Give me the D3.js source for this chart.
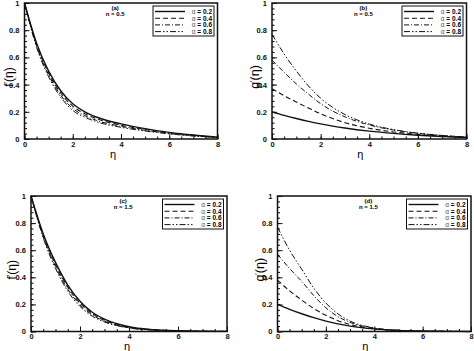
<!DOCTYPE html>
<html lang="en">
<head>
<meta charset="UTF-8">
<title>f' and g' profiles</title>
<script src="https://cdn.jsdelivr.net/npm/d3@7"></script>
<style>
  body { margin: 0; background: #fff; }
  svg text { font-family: "Liberation Sans", Arial, sans-serif; }
</style>
</head>
<body>
<svg id="svg"></svg>
<script>
var WIDTH = 474;
var HEIGHT = 351;

// eta grid shared by all curves
var eta = [0, 0.5, 1, 1.5, 2, 2.5, 3, 4, 5, 6, 7, 8];
var alphas = ["0.2", "0.4", "0.6", "0.8"];
var xTicks = [0, 2, 4, 6, 8];
var yTicks = [0, 0.2, 0.4, 0.6, 0.8, 1];

// (a) f'(eta), n = 0.5
var fN05_a02 = [1, 0.705, 0.499, 0.355, 0.259, 0.2, 0.16, 0.111, 0.076, 0.049, 0.029, 0.014];
var fN05_a04 = [1, 0.695, 0.485, 0.338, 0.242, 0.186, 0.148, 0.102, 0.07, 0.045, 0.027, 0.013];
var fN05_a06 = [1, 0.685, 0.47, 0.322, 0.225, 0.172, 0.136, 0.093, 0.064, 0.041, 0.024, 0.012];
var fN05_a08 = [1, 0.675, 0.457, 0.308, 0.21, 0.16, 0.126, 0.086, 0.059, 0.038, 0.022, 0.011];

// (b) g'(eta), n = 0.5
var gN05_a02 = [0.2, 0.174, 0.151, 0.13, 0.111, 0.095, 0.081, 0.058, 0.041, 0.028, 0.018, 0.01];
var gN05_a04 = [0.37, 0.318, 0.272, 0.228, 0.186, 0.15, 0.12, 0.079, 0.052, 0.034, 0.021, 0.012];
var gN05_a06 = [0.58, 0.49, 0.405, 0.33, 0.26, 0.205, 0.163, 0.103, 0.066, 0.042, 0.026, 0.014];
var gN05_a08 = [0.77, 0.625, 0.5, 0.39, 0.3, 0.232, 0.18, 0.11, 0.069, 0.043, 0.026, 0.014];

// (c) f'(eta), n = 1.5
var fN15_a02 = [1, 0.72, 0.51, 0.343, 0.223, 0.142, 0.091, 0.035, 0.0136, 0.005, 0.0018, 0.0007];
var fN15_a04 = [1, 0.71, 0.495, 0.328, 0.21, 0.132, 0.083, 0.031, 0.012, 0.0045, 0.0016, 0.0006];
var fN15_a06 = [1, 0.70, 0.48, 0.313, 0.197, 0.122, 0.076, 0.028, 0.011, 0.004, 0.0015, 0.0005];
var fN15_a08 = [1, 0.69, 0.465, 0.298, 0.185, 0.113, 0.07, 0.026, 0.01, 0.0037, 0.0013, 0.0005];

// (d) g'(eta), n = 1.5
var gN15_a02 = [0.2, 0.163, 0.131, 0.102, 0.077, 0.056, 0.04, 0.019, 0.008, 0.003, 0.001, 0.0004];
var gN15_a04 = [0.38, 0.3, 0.232, 0.17, 0.12, 0.08, 0.052, 0.02, 0.007, 0.0025, 0.001, 0.0003];
var gN15_a06 = [0.57, 0.465, 0.37, 0.265, 0.175, 0.11, 0.067, 0.024, 0.008, 0.003, 0.001, 0.0003];
var gN15_a08 = [0.77, 0.6, 0.46, 0.32, 0.21, 0.13, 0.077, 0.026, 0.009, 0.003, 0.001, 0.0003];

// line styles per alpha
var dashes = ["none", "5,3", "5,2,1,2", "6,2,1.5,2,1.5,2"];
var widths = [1.4, 1.1, 1, 1];

var panels = [
    {left: 24.5, right: 217.5, top: 3, bottom: 139, fn: "f", tag: "(a)", n: "n = 0.5",
     etaDx: -8, yLabX: 10, yLabSize: 12, series: [fN05_a02, fN05_a04, fN05_a06, fN05_a08]},
    {left: 272, right: 466.5, top: 3, bottom: 139, fn: "g", tag: "(b)", n: "n = 0.5",
     etaDx: -9, yLabX: 256, yLabSize: 12.5, series: [gN05_a02, gN05_a04, gN05_a06, gN05_a08]},
    {left: 31, right: 227, top: 196, bottom: 331.5, fn: "f", tag: "(c)", n: "n = 1.5",
     etaDx: -2, yLabX: 13, yLabSize: 12, series: [fN15_a02, fN15_a04, fN15_a06, fN15_a08]},
    {left: 277.5, right: 471, top: 196, bottom: 331.5, fn: "g", tag: "(d)", n: "n = 1.5",
     etaDx: -9, yLabX: 261, yLabSize: 12.5, series: [gN15_a02, gN15_a04, gN15_a06, gN15_a08]}
];

var svg = d3.select("#svg")
            .attr("width", WIDTH)
            .attr("height", HEIGHT);

panels.forEach(function(p){
    var g = svg.append("g");

    var xScale = d3.scaleLinear().domain([0, 8]).range([p.left, p.right]);
    var yScale = d3.scaleLinear().domain([0, 1]).range([p.bottom, p.top]);

    // minor ticks
    g.append("g")
     .attr("transform", "translate(0," + p.bottom + ")")
     .call(d3.axisBottom(xScale).tickValues(d3.range(0, 8.01, 0.5)).tickSize(-2.5).tickFormat(""))
     .call(function(s){ s.select(".domain").remove(); });
    g.append("g")
     .attr("transform", "translate(" + p.left + ",0)")
     .call(d3.axisLeft(yScale).tickValues(d3.range(0, 1.001, 0.04)).tickSize(-2.5).tickFormat(""))
     .call(function(s){ s.select(".domain").remove(); });

    // major ticks + labels
    var xa = g.append("g")
     .attr("transform", "translate(0," + p.bottom + ")")
     .call(d3.axisBottom(xScale).tickValues(xTicks).tickSize(-5).tickPadding(2.5).tickFormat(d3.format("d")));
    var ya = g.append("g")
     .attr("transform", "translate(" + p.left + ",0)")
     .call(d3.axisLeft(yScale).tickValues(yTicks).tickSize(-5).tickPadding(5)
           .tickFormat(function(d){ return d === 0 || d === 1 ? d3.format("d")(d) : d3.format(".1f")(d); }));
    [xa, ya].forEach(function(a){
        a.select(".domain").remove();
        a.selectAll("text").attr("font-size", 7.5).attr("font-weight", "bold").attr("fill", "#111");
        a.selectAll("line").attr("stroke", "#111");
    });
    g.selectAll(".tick line").attr("stroke-width", 1);

    // curves
    var line = d3.line()
                 .x(function(d, i){ return xScale(eta[i]); })
                 .y(function(d){ return yScale(d); })
                 .curve(d3.curveMonotoneX);
    g.append("g")
     .selectAll("path")
     .data(p.series)
     .enter()
     .append("path")
     .attr("d", line)
     .attr("fill", "none")
     .attr("stroke", "#111")
     .attr("stroke-width", function(d, i){ return widths[i]; })
     .attr("stroke-dasharray", function(d, i){ return dashes[i]; });

    // frame
    g.append("rect")
     .attr("x", p.left).attr("y", p.top)
     .attr("width", p.right - p.left).attr("height", p.bottom - p.top)
     .attr("fill", "none").attr("stroke", "#111").attr("stroke-width", 1.5);

    // panel tag
    var cx = p.left + 0.47 * (p.right - p.left);
    g.append("text").attr("x", cx).attr("y", p.top + 6.5)
     .attr("text-anchor", "middle").attr("font-size", 6).attr("font-weight", "bold")
     .text(p.tag);
    g.append("text").attr("x", cx).attr("y", p.top + 12.5)
     .attr("text-anchor", "middle").attr("font-size", 6).attr("font-weight", "bold")
     .text(p.n);

    // axis titles
    g.append("text")
     .attr("x", (p.left + p.right) / 2 + p.etaDx)
     .attr("y", p.bottom + 18.5)
     .attr("text-anchor", "middle").attr("font-size", 11)
     .text("\u03b7");
    var yl = g.append("text")
     .attr("transform", "translate(" + (p.yLabX + 3) + "," + ((p.top + p.bottom) / 2 + 6) + ") rotate(-90)")
     .attr("text-anchor", "middle").attr("font-size", p.yLabSize);
    yl.append("tspan").text(p.fn);
    yl.append("tspan").attr("dy", -4).attr("font-size", 8).text("\u2032");
    yl.append("tspan").attr("dy", 4).text("(\u03b7)");

    // legend
    var lw = 61, lh = 30;
    var lx = p.right - 3.5 - lw, ly = p.top + 3;
    var lg = g.append("g");
    lg.append("rect").attr("x", lx).attr("y", ly).attr("width", lw).attr("height", lh)
      .attr("fill", "#fff").attr("stroke", "#111").attr("stroke-width", 1);
    var rows = lg.selectAll("g.row")
      .data(alphas)
      .enter()
      .append("g")
      .attr("class", "row")
      .attr("transform", function(d, i){ return "translate(0," + (ly + 5.5 + i * 6.7) + ")"; });
    rows.append("line")
      .attr("x1", lx + 2).attr("x2", lx + 32)
      .attr("y1", 0).attr("y2", 0)
      .attr("stroke", "#111")
      .attr("stroke-width", function(d, i){ return widths[i]; })
      .attr("stroke-dasharray", function(d, i){ return dashes[i]; });
    var t = rows.append("text")
      .attr("x", lx + lw - 2).attr("y", 2.5)
      .attr("text-anchor", "end").attr("font-size", 6.5);
    t.append("tspan").attr("fill", "#555").text("\u03b1");
    t.append("tspan").attr("font-weight", "bold").text(function(d){ return " = " + d; });
});
</script>
</body>
</html>
